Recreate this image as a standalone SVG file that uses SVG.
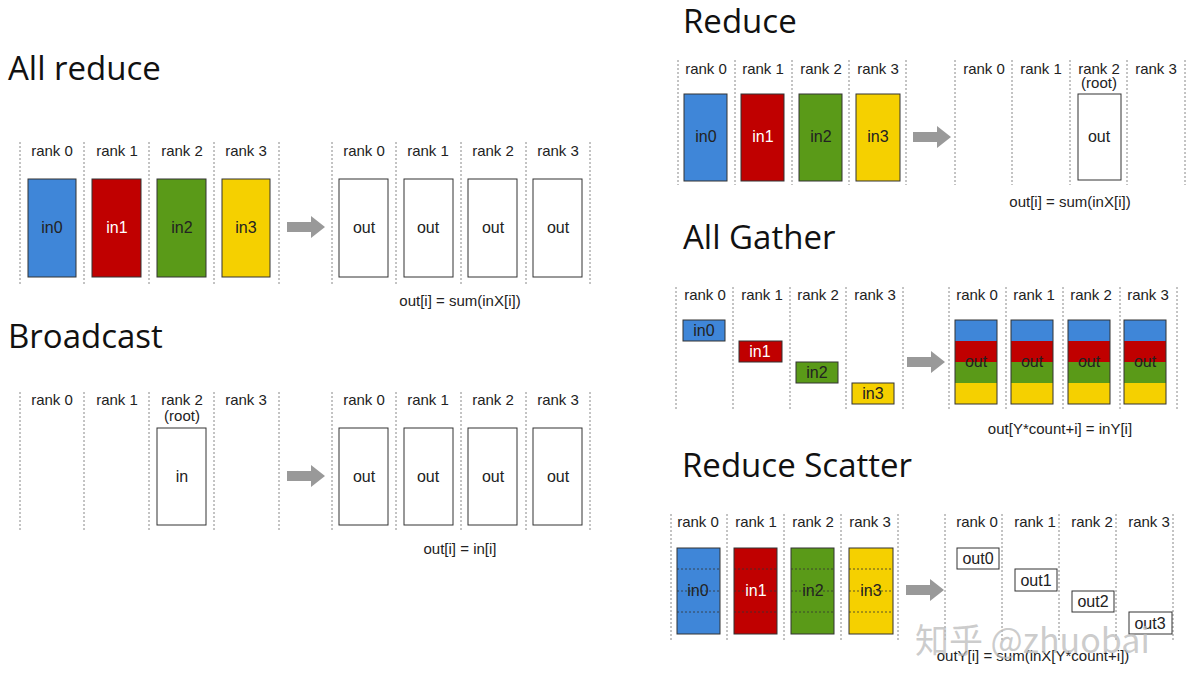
<svg xmlns="http://www.w3.org/2000/svg" width="1197" height="691" viewBox="0 0 1197 691">
<style>
.t{font-family:"Open Sans","Noto Sans",sans-serif;font-size:33px;fill:#111}
.r{font-family:"Liberation Sans",Arial,sans-serif;font-size:15px;fill:#222;text-anchor:middle}
.f{font-family:"Liberation Sans",Arial,sans-serif;font-size:15px;fill:#222;text-anchor:middle}
.b{font-family:"Liberation Sans",Arial,sans-serif;font-size:16px;fill:#222;text-anchor:middle}
.w{fill:#fff}
.d{stroke:#888;stroke-width:1;stroke-dasharray:2,2}
.bx{stroke:#333;stroke-width:1}
.B{fill:#3f86d8}.R{fill:#c00000}.G{fill:#5a9a18}.Y{fill:#f5d000}.W{fill:#fff}
.in{stroke:#333;stroke-width:0.8;stroke-dasharray:2,2}
</style>
<defs>
<path id="arr" d="M0,-5 H24 V-11 L38,0 L24,11 V5 H0 Z" fill="#999"/>
</defs>
<rect width="1197" height="691" fill="#fff"/>
<text class="t" x="8" y="80">All reduce</text>
<text class="t" x="8" y="348">Broadcast</text>
<text class="t" x="683" y="33">Reduce</text>
<text class="t" x="683" y="249">All Gather</text>
<text class="t" x="682" y="477">Reduce Scatter</text>

<g id="connectors">
<use href="#arr" x="287" y="227"/>
<use href="#arr" x="287" y="476"/>
<use href="#arr" x="913" y="137"/>
<use href="#arr" x="907" y="362"/>
<use href="#arr" x="906" y="590"/>
</g>

<g id="allreduce">
<g class="d">
<line x1="20" y1="142" x2="20" y2="285"/><line x1="84" y1="142" x2="84" y2="285"/><line x1="149" y1="142" x2="149" y2="285"/><line x1="214" y1="142" x2="214" y2="285"/><line x1="279" y1="142" x2="279" y2="285"/>
<line x1="332" y1="142" x2="332" y2="285"/><line x1="396" y1="142" x2="396" y2="285"/><line x1="461" y1="142" x2="461" y2="285"/><line x1="526" y1="142" x2="526" y2="285"/><line x1="590" y1="142" x2="590" y2="285"/>
</g>
<text class="r" x="52" y="156">rank 0</text><text class="r" x="117" y="156">rank 1</text><text class="r" x="182" y="156">rank 2</text><text class="r" x="246" y="156">rank 3</text>
<text class="r" x="364" y="156">rank 0</text><text class="r" x="428" y="156">rank 1</text><text class="r" x="493" y="156">rank 2</text><text class="r" x="558" y="156">rank 3</text>
<rect class="bx B" x="28" y="179" width="48" height="98"/><text class="b" x="52" y="233">in0</text>
<rect class="bx R" x="92" y="179" width="49" height="98"/><text class="b w" x="117" y="233">in1</text>
<rect class="bx G" x="157" y="179" width="49" height="98"/><text class="b" x="182" y="233">in2</text>
<rect class="bx Y" x="222" y="179" width="48" height="98"/><text class="b" x="246" y="233">in3</text>
<rect class="bx W" x="339" y="179" width="49" height="98"/><text class="b" x="364" y="233">out</text>
<rect class="bx W" x="404" y="179" width="49" height="98"/><text class="b" x="428" y="233">out</text>
<rect class="bx W" x="468" y="179" width="49" height="98"/><text class="b" x="493" y="233">out</text>
<rect class="bx W" x="533" y="179" width="49" height="98"/><text class="b" x="558" y="233">out</text>
<text class="f" x="460" y="306">out[i] = sum(inX[i])</text>
</g>

<g id="broadcast">
<g class="d">
<line x1="20" y1="392" x2="20" y2="530"/><line x1="84" y1="392" x2="84" y2="530"/><line x1="149" y1="392" x2="149" y2="530"/><line x1="214" y1="392" x2="214" y2="530"/><line x1="279" y1="392" x2="279" y2="530"/>
<line x1="332" y1="392" x2="332" y2="530"/><line x1="396" y1="392" x2="396" y2="530"/><line x1="461" y1="392" x2="461" y2="530"/><line x1="526" y1="392" x2="526" y2="530"/><line x1="590" y1="392" x2="590" y2="530"/>
</g>
<text class="r" x="52" y="405">rank 0</text><text class="r" x="117" y="405">rank 1</text><text class="r" x="182" y="405">rank 2</text><text class="r" x="182" y="421">(root)</text><text class="r" x="246" y="405">rank 3</text>
<text class="r" x="364" y="405">rank 0</text><text class="r" x="428" y="405">rank 1</text><text class="r" x="493" y="405">rank 2</text><text class="r" x="558" y="405">rank 3</text>
<rect class="bx W" x="157" y="428" width="49" height="97"/><text class="b" x="182" y="482">in</text>
<rect class="bx W" x="339" y="428" width="49" height="97"/><text class="b" x="364" y="482">out</text>
<rect class="bx W" x="404" y="428" width="49" height="97"/><text class="b" x="428" y="482">out</text>
<rect class="bx W" x="468" y="428" width="49" height="97"/><text class="b" x="493" y="482">out</text>
<rect class="bx W" x="533" y="428" width="49" height="97"/><text class="b" x="558" y="482">out</text>
<text class="f" x="460" y="554">out[i] = in[i]</text>
</g>

<g id="reduce">
<g class="d">
<line x1="678" y1="60" x2="678" y2="185"/><line x1="735" y1="60" x2="735" y2="185"/><line x1="792" y1="60" x2="792" y2="185"/><line x1="849" y1="60" x2="849" y2="185"/><line x1="906" y1="60" x2="906" y2="185"/>
<line x1="955" y1="60" x2="955" y2="185"/><line x1="1012" y1="60" x2="1012" y2="185"/><line x1="1070" y1="60" x2="1070" y2="185"/><line x1="1127" y1="60" x2="1127" y2="185"/><line x1="1185" y1="60" x2="1185" y2="185"/>
</g>
<text class="r" x="706" y="74">rank 0</text><text class="r" x="763" y="74">rank 1</text><text class="r" x="821" y="74">rank 2</text><text class="r" x="878" y="74">rank 3</text>
<text class="r" x="984" y="74">rank 0</text><text class="r" x="1041" y="74">rank 1</text><text class="r" x="1099" y="74">rank 2</text><text class="r" x="1099" y="88">(root)</text><text class="r" x="1156" y="74">rank 3</text>
<rect class="bx B" x="684" y="94" width="43" height="87"/><text class="b" x="706" y="142">in0</text>
<rect class="bx R" x="741" y="94" width="43" height="87"/><text class="b w" x="763" y="142">in1</text>
<rect class="bx G" x="799" y="94" width="43" height="87"/><text class="b" x="821" y="142">in2</text>
<rect class="bx Y" x="856" y="94" width="44" height="87"/><text class="b" x="878" y="142">in3</text>
<rect class="bx W" x="1078" y="94" width="43" height="86"/><text class="b" x="1099" y="142">out</text>
<text class="f" x="1070" y="207">out[i] = sum(inX[i])</text>
</g>

<g id="allgather">
<g class="d">
<line x1="676" y1="287" x2="676" y2="410"/><line x1="733" y1="287" x2="733" y2="410"/><line x1="790" y1="287" x2="790" y2="410"/><line x1="846" y1="287" x2="846" y2="410"/><line x1="903" y1="287" x2="903" y2="410"/>
<line x1="949" y1="287" x2="949" y2="410"/><line x1="1006" y1="287" x2="1006" y2="410"/><line x1="1063" y1="287" x2="1063" y2="410"/><line x1="1120" y1="287" x2="1120" y2="410"/><line x1="1177" y1="287" x2="1177" y2="410"/>
</g>
<text class="r" x="705" y="300">rank 0</text><text class="r" x="762" y="300">rank 1</text><text class="r" x="818" y="300">rank 2</text><text class="r" x="875" y="300">rank 3</text>
<text class="r" x="977" y="300">rank 0</text><text class="r" x="1034" y="300">rank 1</text><text class="r" x="1091" y="300">rank 2</text><text class="r" x="1148" y="300">rank 3</text>
<rect class="bx B" x="683" y="320" width="42" height="21"/><text class="b" x="704" y="336">in0</text>
<rect class="bx R" x="739" y="341" width="43" height="21"/><text class="b w" x="760" y="357">in1</text>
<rect class="bx G" x="796" y="362" width="42" height="21"/><text class="b" x="817" y="378">in2</text>
<rect class="bx Y" x="852" y="383" width="42" height="21"/><text class="b" x="873" y="399">in3</text>
<g>
<rect class="B" x="955" y="320" width="42" height="21"/><rect class="R" x="955" y="341" width="42" height="21"/><rect class="G" x="955" y="362" width="42" height="21"/><rect class="Y" x="955" y="383" width="42" height="21"/><rect x="955" y="320" width="42" height="84" fill="none" stroke="#333"/><text class="b" x="976" y="367">out</text>
<rect class="B" x="1011" y="320" width="42" height="21"/><rect class="R" x="1011" y="341" width="42" height="21"/><rect class="G" x="1011" y="362" width="42" height="21"/><rect class="Y" x="1011" y="383" width="42" height="21"/><rect x="1011" y="320" width="42" height="84" fill="none" stroke="#333"/><text class="b" x="1032" y="367">out</text>
<rect class="B" x="1068" y="320" width="42" height="21"/><rect class="R" x="1068" y="341" width="42" height="21"/><rect class="G" x="1068" y="362" width="42" height="21"/><rect class="Y" x="1068" y="383" width="42" height="21"/><rect x="1068" y="320" width="42" height="84" fill="none" stroke="#333"/><text class="b" x="1089" y="367">out</text>
<rect class="B" x="1124" y="320" width="42" height="21"/><rect class="R" x="1124" y="341" width="42" height="21"/><rect class="G" x="1124" y="362" width="42" height="21"/><rect class="Y" x="1124" y="383" width="42" height="21"/><rect x="1124" y="320" width="42" height="84" fill="none" stroke="#333"/><text class="b" x="1145" y="367">out</text>
</g>
<text class="f" x="1060" y="434">out[Y*count+i] = inY[i]</text>
</g>

<g id="reducescatter">
<g class="d">
<line x1="671" y1="514" x2="671" y2="640"/><line x1="727" y1="514" x2="727" y2="640"/><line x1="784" y1="514" x2="784" y2="640"/><line x1="841" y1="514" x2="841" y2="640"/><line x1="898" y1="514" x2="898" y2="640"/>
<line x1="945" y1="514" x2="945" y2="640"/><line x1="1002" y1="514" x2="1002" y2="640"/><line x1="1059" y1="514" x2="1059" y2="640"/><line x1="1116" y1="514" x2="1116" y2="640"/><line x1="1173" y1="514" x2="1173" y2="640"/>
</g>
<text class="r" x="698" y="527">rank 0</text><text class="r" x="756" y="527">rank 1</text><text class="r" x="813" y="527">rank 2</text><text class="r" x="870" y="527">rank 3</text>
<text class="r" x="977" y="527">rank 0</text><text class="r" x="1035" y="527">rank 1</text><text class="r" x="1092" y="527">rank 2</text><text class="r" x="1149" y="527">rank 3</text>
<rect class="bx B" x="677" y="548" width="43" height="86"/>
<rect class="bx R" x="734" y="548" width="43" height="86"/>
<rect class="bx G" x="791" y="548" width="43" height="86"/>
<rect class="bx Y" x="849" y="548" width="44" height="86"/>
<g class="in">
<line x1="677" y1="569" x2="720" y2="569"/><line x1="677" y1="591" x2="720" y2="591"/><line x1="677" y1="612" x2="720" y2="612"/>
<line x1="734" y1="569" x2="777" y2="569"/><line x1="734" y1="591" x2="777" y2="591"/><line x1="734" y1="612" x2="777" y2="612"/>
<line x1="791" y1="569" x2="834" y2="569"/><line x1="791" y1="591" x2="834" y2="591"/><line x1="791" y1="612" x2="834" y2="612"/>
<line x1="849" y1="569" x2="893" y2="569"/><line x1="849" y1="591" x2="893" y2="591"/><line x1="849" y1="612" x2="893" y2="612"/>
</g>
<text class="b" x="698" y="596">in0</text><text class="b w" x="756" y="596">in1</text><text class="b" x="813" y="596">in2</text><text class="b" x="871" y="596">in3</text>
<rect class="bx W" x="957" y="548" width="42" height="21"/><text class="b" x="978" y="564">out0</text>
<rect class="bx W" x="1015" y="569" width="42" height="22"/><text class="b" x="1036" y="586">out1</text>
<rect class="bx W" x="1072" y="591" width="42" height="21"/><text class="b" x="1093" y="607">out2</text>
<rect class="bx W" x="1129" y="612" width="43" height="22"/><text class="b" x="1150" y="629">out3</text>
<text class="f" x="1033" y="661">outY[i] = sum(inX[Y*count+i])</text>
</g>
<text x="915" y="653" font-family="'Noto Sans CJK SC','Noto Sans',sans-serif" font-size="34" fill="#bbb" fill-opacity="0.75">知乎 @zhuobai</text>
</svg>
